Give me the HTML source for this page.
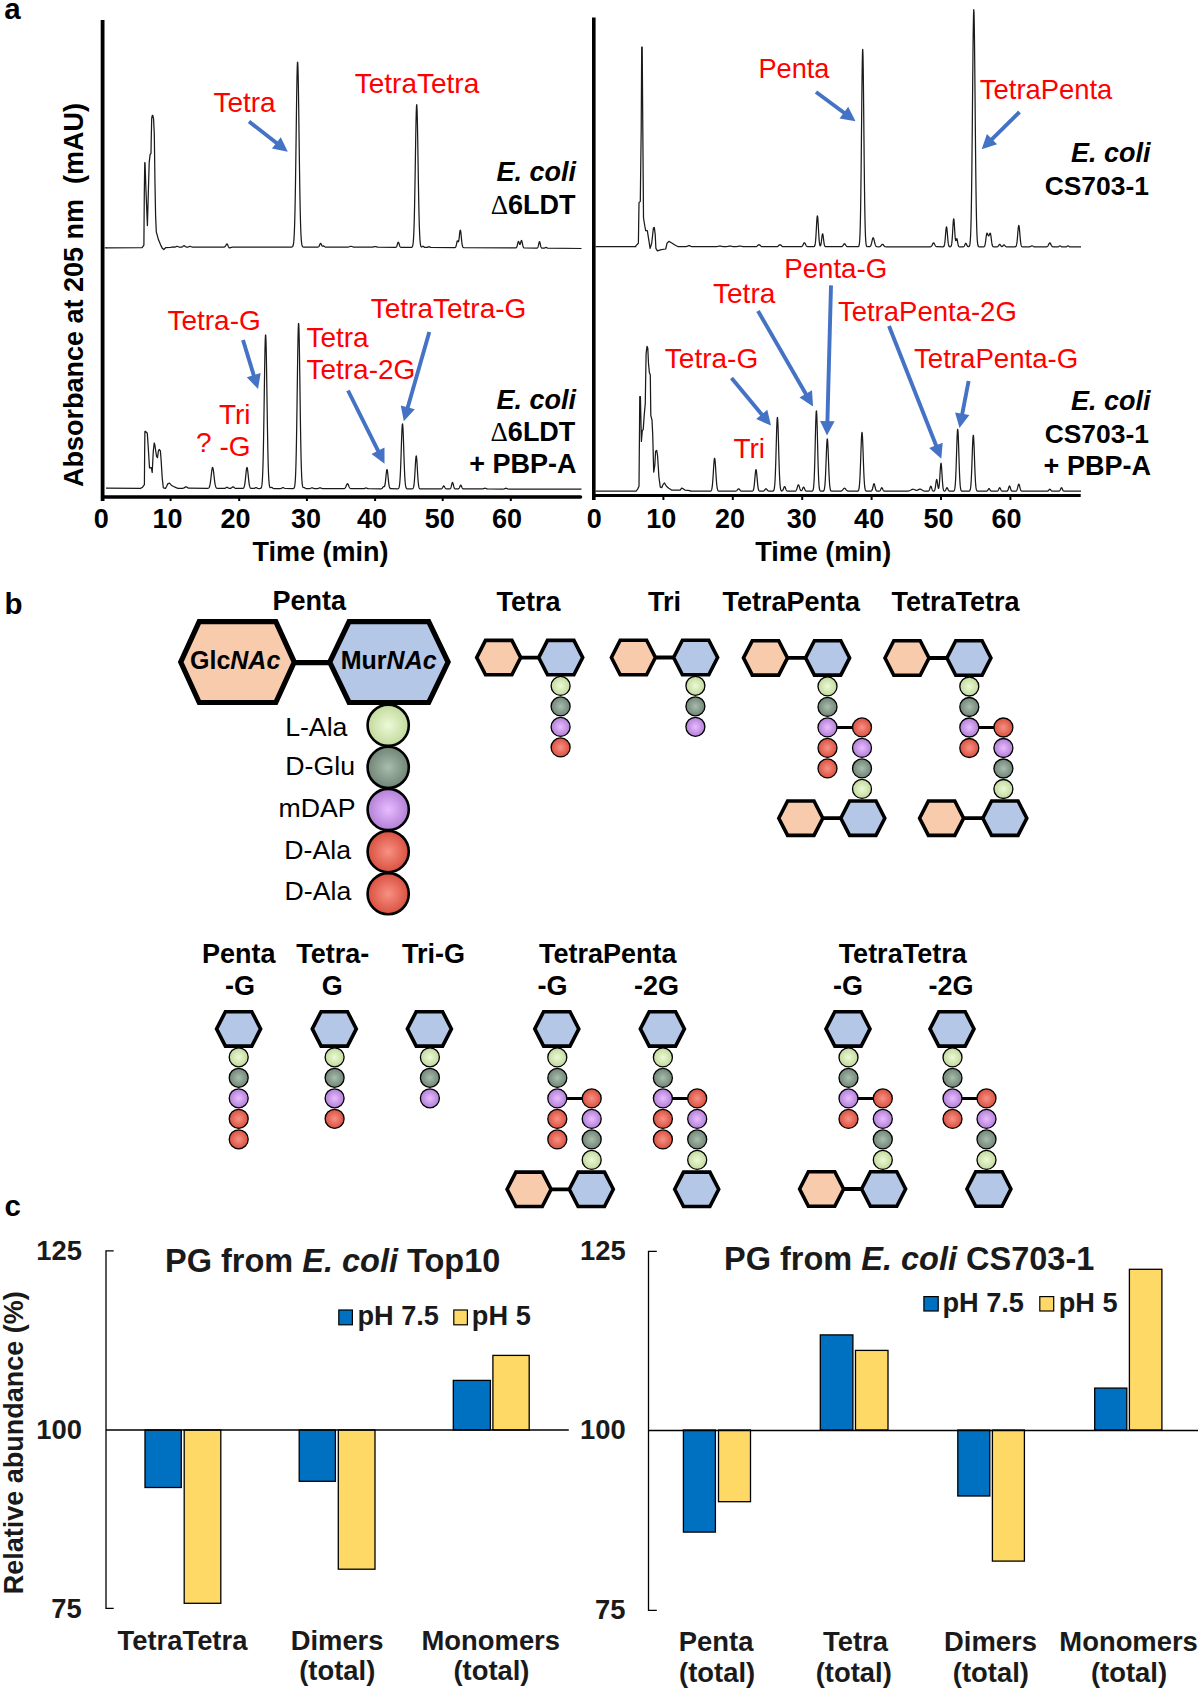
<!DOCTYPE html>
<html><head><meta charset="utf-8"><title>Figure</title><style>
html,body{margin:0;padding:0;background:#fff;}
body{width:1200px;height:1692px;overflow:hidden;}
svg{display:block;}
text{font-family:"Liberation Sans",Arial,sans-serif;}
.r{font-size:26px;fill:#ff0000;}
.tk{font-size:23.5px;font-weight:bold;}
.ax{font-size:26px;font-weight:bold;}
.yl{font-size:23.6px;font-weight:bold;}
.st{font-size:26.5px;font-weight:bold;}
.it{font-style:italic;}
.dl{font-weight:normal;}
.big{font-size:24px;font-weight:bold;}
.aa{font-size:25.5px;}
.lb{font-size:26px;font-weight:bold;}
.tk2{font-size:26px;font-weight:bold;}
.ti{font-size:31.5px;font-weight:bold;fill:#1a1a1a;}
.lg{font-size:25px;font-weight:bold;fill:#1a1a1a;}
.xl{font-size:26.5px;font-weight:bold;fill:#1a1a1a;}
.pl{font-size:29.5px;font-weight:bold;}
</style></head>
<body><svg width="1200" height="1692" viewBox="0 0 1200 1692"><defs>
<radialGradient id="gA" cx="0.5" cy="0.5" r="0.5"><stop offset="0" stop-color="#ecfad6"/><stop offset="1" stop-color="#c2d99d"/></radialGradient>
<radialGradient id="gE" cx="0.5" cy="0.5" r="0.5"><stop offset="0" stop-color="#a9bcad"/><stop offset="1" stop-color="#6f8575"/></radialGradient>
<radialGradient id="gM" cx="0.5" cy="0.5" r="0.5"><stop offset="0" stop-color="#e8bcff"/><stop offset="1" stop-color="#b27fd6"/></radialGradient>
<radialGradient id="gD" cx="0.5" cy="0.5" r="0.5"><stop offset="0" stop-color="#f79184"/><stop offset="1" stop-color="#d9503f"/></radialGradient>
</defs>
<rect width="1200" height="1692" fill="#fff"/>
<text x="4.2" y="19.2" class="pl">a</text>
<text x="4.5" y="614.2" class="pl">b</text>
<text x="4.5" y="1216" class="pl">c</text>
<line x1="102.6" y1="20" x2="102.6" y2="501" stroke="#000" stroke-width="3.8"/><line x1="102.6" y1="497" x2="580.5" y2="497" stroke="#000" stroke-width="3.5" stroke-linecap="round"/><line x1="593.8" y1="17.5" x2="593.8" y2="500" stroke="#000" stroke-width="3.6"/><line x1="593.8" y1="495.5" x2="1080.7" y2="495.5" stroke="#000" stroke-width="3.2"/><line x1="170.6" y1="497" x2="170.6" y2="501" stroke="#000" stroke-width="2"/><line x1="663.4" y1="495" x2="663.4" y2="500" stroke="#000" stroke-width="2"/><line x1="239.2" y1="497" x2="239.2" y2="501" stroke="#000" stroke-width="2"/><line x1="732.8" y1="495" x2="732.8" y2="500" stroke="#000" stroke-width="2"/><line x1="306.9" y1="497" x2="306.9" y2="501" stroke="#000" stroke-width="2"/><line x1="802.2" y1="495" x2="802.2" y2="500" stroke="#000" stroke-width="2"/><line x1="375.1" y1="497" x2="375.1" y2="501" stroke="#000" stroke-width="2"/><line x1="871.6" y1="495" x2="871.6" y2="500" stroke="#000" stroke-width="2"/><line x1="442.7" y1="497" x2="442.7" y2="501" stroke="#000" stroke-width="2"/><line x1="941.0" y1="495" x2="941.0" y2="500" stroke="#000" stroke-width="2"/><line x1="510.8" y1="497" x2="510.8" y2="501" stroke="#000" stroke-width="2"/><line x1="1010.4" y1="495" x2="1010.4" y2="500" stroke="#000" stroke-width="2"/><line x1="104.5" y1="247.8" x2="106.5" y2="247.8" stroke="#333" stroke-width="1.3"/><text x="93.74" y="527.50" style="font-size:27.00px;font-weight:bold" fill="#000">0</text><text x="586.84" y="527.50" style="font-size:27.00px;font-weight:bold" fill="#000">0</text><text x="152.55" y="527.50" style="font-size:27.00px;font-weight:bold" fill="#000">10</text><text x="646.25" y="527.50" style="font-size:27.00px;font-weight:bold" fill="#000">10</text><text x="220.45" y="527.50" style="font-size:27.00px;font-weight:bold" fill="#000">20</text><text x="714.95" y="527.50" style="font-size:27.00px;font-weight:bold" fill="#000">20</text><text x="290.99" y="527.50" style="font-size:27.00px;font-weight:bold" fill="#000">30</text><text x="786.68" y="527.50" style="font-size:27.00px;font-weight:bold" fill="#000">30</text><text x="357.02" y="527.50" style="font-size:27.00px;font-weight:bold" fill="#000">40</text><text x="854.12" y="527.50" style="font-size:27.00px;font-weight:bold" fill="#000">40</text><text x="424.85" y="527.50" style="font-size:27.00px;font-weight:bold" fill="#000">50</text><text x="923.45" y="527.50" style="font-size:27.00px;font-weight:bold" fill="#000">50</text><text x="492.01" y="527.50" style="font-size:27.00px;font-weight:bold" fill="#000">60</text><text x="991.51" y="527.50" style="font-size:27.00px;font-weight:bold" fill="#000">60</text><text x="252.50" y="561.40" style="font-size:27.00px;font-weight:bold" fill="#000">Time (min)</text><text x="755.30" y="561.40" style="font-size:27.00px;font-weight:bold" fill="#000">Time (min)</text><text transform="translate(82.7 295) rotate(-90)" style="font-size:27px;font-weight:bold" text-anchor="middle" xml:space="preserve">Absorbance at 205 nm  (mAU)</text><path d="M106.00 247.80 L142.00 247.51 L142.10 247.70 L143.90 245.10 L144.30 193.70 L144.75 162.60 L145.00 162.80 L146.10 193.70 L147.40 225.60 L148.30 193.70 L149.20 162.60 L150.10 154.60 L151.00 153.30 L151.20 140.50 L151.70 118.30 L152.30 115.30 L152.80 115.30 L153.60 119.20 L154.30 134.30 L155.00 184.80 L155.60 215.80 L156.30 231.80 L158.50 239.80 L160.70 245.10 L162.50 248.60 L163.80 249.50 L165.60 247.70 L170.50 247.30 L174.00 246.80 L174.25 247.19 L175.00 247.04 L176.50 246.49 L177.00 246.42 L177.50 246.49 L179.00 247.01 L180.00 247.16 L181.25 247.16 L181.75 247.08 L182.25 246.87 L182.75 246.51 L183.50 245.87 L183.75 245.74 L184.00 245.69 L184.25 245.73 L184.75 246.05 L185.50 246.70 L186.00 246.98 L186.75 247.14 L187.75 247.11 L188.50 246.92 L189.50 246.47 L190.00 246.37 L190.50 246.46 L191.75 246.99 L192.50 247.13 L224.00 247.04 L224.50 246.93 L225.00 246.64 L225.25 246.38 L225.75 245.61 L226.25 244.68 L226.50 244.29 L226.75 244.04 L227.00 243.98 L227.25 244.14 L227.50 244.49 L227.75 244.99 L228.25 246.18 L228.50 246.73 L228.75 247.19 L229.00 247.54 L229.25 247.78 L229.50 247.92 L230.00 247.94 L231.50 247.30 L232.25 247.12 L291.50 247.06 L292.00 246.98 L292.50 246.70 L292.75 246.40 L293.00 245.88 L293.25 245.03 L293.50 243.68 L293.75 241.63 L294.00 238.58 L294.25 234.23 L294.50 228.23 L294.75 220.22 L295.00 209.94 L295.25 197.23 L295.50 182.13 L295.75 164.94 L296.00 146.23 L296.25 126.90 L296.50 108.05 L296.75 90.96 L297.00 76.91 L297.25 67.02 L297.50 62.14 L297.75 62.68 L298.00 68.62 L298.25 79.42 L298.50 94.18 L298.75 111.73 L299.00 130.77 L299.25 150.06 L299.50 168.53 L299.75 185.34 L300.00 199.98 L300.25 212.20 L300.50 222.01 L300.75 229.59 L301.00 235.24 L301.25 239.30 L301.50 242.12 L301.75 244.02 L302.00 245.25 L302.25 246.02 L302.50 246.49 L302.75 246.77 L303.25 247.01 L317.75 247.11 L318.25 247.01 L318.50 246.89 L318.75 246.68 L319.00 246.36 L319.25 245.90 L320.00 244.10 L320.25 243.62 L320.50 243.36 L320.75 243.39 L321.00 243.69 L321.25 244.19 L321.75 245.35 L322.00 245.80 L322.25 246.08 L322.50 246.19 L323.25 245.95 L323.50 245.93 L323.75 246.00 L324.75 246.80 L325.25 247.04 L326.00 247.14 L347.50 247.14 L348.75 246.94 L350.25 246.49 L351.00 246.40 L351.75 246.50 L353.75 247.07 L371.50 247.23 L372.75 247.03 L374.25 246.59 L375.00 246.50 L375.75 246.60 L377.75 247.16 L395.25 247.36 L395.75 247.29 L396.00 247.18 L396.25 246.99 L396.50 246.68 L396.75 246.20 L397.00 245.55 L397.75 243.07 L398.00 242.47 L398.25 242.20 L398.50 242.32 L398.75 242.80 L399.00 243.55 L399.50 245.26 L399.75 245.98 L400.00 246.52 L400.25 246.90 L400.50 247.14 L401.00 247.34 L411.00 247.42 L411.50 247.36 L412.00 247.11 L412.25 246.82 L412.50 246.31 L412.75 245.47 L413.00 244.10 L413.25 241.99 L413.50 238.83 L413.75 234.31 L414.00 228.10 L414.25 219.90 L414.50 209.55 L414.75 197.07 L415.00 182.74 L415.25 167.14 L415.50 151.13 L415.75 135.82 L416.00 122.45 L416.25 112.19 L416.50 106.02 L416.75 104.56 L417.00 107.95 L417.25 115.85 L417.50 127.49 L417.75 141.79 L418.00 157.52 L418.25 173.49 L418.50 188.68 L418.75 202.32 L419.00 213.97 L419.25 223.45 L419.50 230.83 L419.75 236.33 L420.00 240.27 L420.25 242.97 L420.50 244.75 L420.75 245.87 L421.00 246.53 L421.25 246.88 L421.50 247.02 L421.75 247.00 L422.75 246.34 L423.00 246.28 L423.25 246.34 L424.25 247.14 L424.75 247.38 L425.50 247.49 L427.00 247.47 L427.50 247.37 L428.50 246.85 L429.00 246.71 L429.50 246.85 L430.25 247.28 L430.75 247.44 L454.75 247.58 L455.25 247.44 L455.50 247.23 L455.75 246.84 L456.00 246.21 L456.25 245.30 L456.50 244.15 L456.75 242.91 L457.00 241.81 L457.25 241.07 L457.50 240.83 L457.75 241.04 L458.00 241.48 L458.25 241.79 L458.50 241.64 L458.75 240.80 L459.00 239.23 L459.25 237.10 L459.50 234.72 L459.75 232.50 L460.00 230.87 L460.25 230.14 L460.50 230.48 L460.75 231.82 L461.00 233.94 L461.50 239.12 L461.75 241.52 L462.00 243.51 L462.25 245.03 L462.50 246.09 L462.75 246.77 L463.00 247.19 L463.25 247.42 L463.75 247.60 L515.50 247.93 L516.00 247.83 L516.25 247.68 L516.50 247.42 L516.75 246.99 L517.00 246.35 L517.25 245.50 L517.75 243.38 L518.00 242.41 L518.25 241.72 L518.50 241.45 L518.75 241.66 L519.00 242.26 L519.50 243.85 L519.75 244.38 L520.00 244.50 L520.25 244.16 L520.50 243.40 L521.00 241.44 L521.25 240.73 L521.50 240.48 L521.75 240.78 L522.00 241.58 L522.25 242.71 L522.75 245.16 L523.00 246.15 L523.25 246.89 L523.50 247.39 L523.75 247.70 L524.00 247.87 L524.50 248.00 L536.75 248.12 L537.25 248.01 L537.50 247.85 L537.75 247.55 L538.00 247.02 L538.25 246.23 L538.50 245.17 L539.00 242.80 L539.25 241.96 L539.50 241.66 L539.75 241.97 L540.00 242.81 L540.50 245.19 L540.75 246.25 L541.00 247.05 L541.25 247.58 L541.50 247.89 L541.75 248.05 L542.25 248.16 L544.00 248.16 L544.50 248.06 L545.50 247.55 L546.00 247.41 L546.50 247.56 L547.25 247.98 L547.75 248.15 L581.50 248.50" fill="none" stroke="#1a1a1a" stroke-width="1.25" stroke-linejoin="round"/><path d="M106.00 488.20 L140.00 488.27 L140.20 488.50 L142.40 487.40 L144.40 484.70 L144.65 451.00 L144.90 431.50 L145.30 431.30 L147.30 433.30 L148.20 446.60 L149.50 467.90 L151.30 467.70 L152.20 472.50 L153.30 451.00 L154.20 443.00 L154.85 444.80 L155.70 451.00 L156.60 456.30 L157.50 457.70 L158.40 451.00 L159.20 449.50 L160.40 451.00 L161.10 459.90 L162.20 477.60 L163.30 487.80 L165.50 488.30 L166.60 486.50 L167.70 483.80 L169.50 483.20 L171.30 485.20 L173.50 486.50 L176.10 487.60 L178.00 488.30 L182.50 488.32 L183.25 488.20 L184.00 487.90 L185.25 487.10 L185.75 486.90 L186.25 486.90 L186.75 487.10 L188.00 487.91 L188.75 488.21 L207.50 488.39 L208.25 488.25 L208.75 487.94 L209.00 487.65 L209.25 487.22 L209.50 486.61 L209.75 485.77 L210.00 484.68 L210.25 483.29 L210.50 481.60 L210.75 479.65 L211.00 477.49 L211.50 473.00 L211.75 470.96 L212.00 469.27 L212.25 468.07 L212.50 467.48 L212.75 467.54 L213.00 468.26 L213.25 469.57 L213.50 471.35 L213.75 473.44 L214.25 477.94 L214.50 480.07 L214.75 481.97 L215.00 483.60 L215.25 484.93 L215.50 485.97 L215.75 486.76 L216.00 487.33 L216.25 487.73 L216.50 488.00 L217.00 488.28 L217.75 488.41 L224.25 488.42 L225.00 488.29 L225.50 488.06 L226.50 487.39 L227.00 487.25 L227.50 487.40 L228.50 488.07 L229.00 488.29 L229.75 488.41 L230.50 488.34 L231.00 488.16 L231.50 487.83 L232.25 487.20 L232.75 486.91 L233.00 486.87 L233.50 487.03 L234.75 488.02 L235.25 488.27 L236.00 488.43 L242.50 488.45 L243.00 488.36 L243.50 488.07 L243.75 487.77 L244.00 487.31 L244.25 486.62 L244.50 485.65 L244.75 484.34 L245.00 482.65 L245.25 480.61 L245.50 478.27 L246.00 473.25 L246.25 470.95 L246.50 469.11 L246.75 467.91 L247.00 467.50 L247.25 467.91 L247.50 469.11 L247.75 470.96 L248.00 473.25 L248.50 478.28 L248.75 480.62 L249.00 482.66 L249.25 484.35 L249.50 485.66 L249.75 486.63 L250.00 487.32 L250.25 487.79 L250.50 488.09 L251.00 488.38 L251.75 488.49 L253.75 488.47 L254.25 488.36 L254.75 488.13 L255.50 487.66 L256.00 487.52 L256.50 487.66 L257.25 488.14 L257.75 488.37 L258.50 488.50 L260.00 488.50 L260.50 488.40 L260.75 488.28 L261.00 488.06 L261.25 487.67 L261.50 487.00 L261.75 485.89 L262.00 484.13 L262.25 481.44 L262.50 477.50 L262.75 471.94 L263.00 464.43 L263.25 454.68 L263.50 442.60 L263.75 428.31 L264.00 412.24 L264.50 378.04 L264.75 362.22 L265.00 349.02 L265.25 339.62 L265.50 334.96 L265.75 335.48 L266.00 341.15 L266.25 351.39 L266.50 365.22 L266.75 381.40 L267.00 398.59 L267.25 415.57 L267.50 431.34 L267.75 445.21 L268.00 456.83 L268.25 466.11 L268.50 473.21 L268.75 478.41 L269.00 482.06 L269.25 484.51 L269.50 486.07 L269.75 487.00 L270.00 487.49 L270.25 487.68 L270.50 487.69 L271.25 487.37 L271.50 487.34 L272.00 487.52 L272.75 488.09 L273.25 488.37 L274.00 488.53 L280.25 488.54 L281.00 488.43 L281.75 488.11 L282.50 487.69 L283.00 487.57 L283.50 487.69 L284.50 488.25 L285.25 488.50 L293.00 488.56 L293.50 488.46 L293.75 488.33 L294.00 488.10 L294.25 487.67 L294.50 486.95 L294.75 485.76 L295.00 483.87 L295.25 480.98 L295.50 476.74 L295.75 470.76 L296.00 462.68 L296.25 452.20 L296.50 439.21 L296.75 423.85 L297.00 406.56 L297.50 369.78 L297.75 352.78 L298.00 338.58 L298.25 328.48 L298.50 323.46 L298.75 324.02 L299.00 330.12 L299.25 341.13 L299.50 356.00 L299.75 373.40 L300.00 391.88 L300.25 410.14 L300.50 427.10 L300.75 442.01 L301.00 454.50 L301.25 464.47 L301.50 472.08 L301.75 477.65 L302.00 481.53 L302.25 484.11 L302.50 485.74 L302.75 486.69 L303.00 487.19 L303.25 487.42 L304.25 487.62 L305.50 488.29 L306.25 488.54 L309.25 488.61 L310.00 488.52 L310.75 488.26 L311.50 487.93 L312.00 487.83 L312.50 487.93 L313.75 488.46 L314.50 488.60 L317.50 488.61 L318.25 488.47 L319.50 487.94 L320.00 487.85 L320.50 487.95 L321.75 488.48 L322.50 488.62 L343.75 488.66 L344.25 488.57 L344.75 488.34 L345.00 488.13 L345.25 487.84 L345.50 487.46 L345.75 486.98 L346.75 484.59 L347.00 484.12 L347.25 483.81 L347.50 483.71 L347.75 483.82 L348.00 484.12 L348.25 484.60 L349.00 486.42 L349.25 486.99 L349.50 487.47 L349.75 487.85 L350.00 488.14 L350.50 488.49 L351.00 488.64 L363.50 488.71 L364.25 488.57 L365.50 488.04 L366.00 487.95 L366.50 488.04 L367.75 488.58 L368.50 488.72 L381.00 488.76 L381.50 488.69 L382.00 488.43 L382.25 488.19 L383.00 487.11 L383.25 486.82 L383.50 486.66 L384.25 486.65 L384.50 486.41 L384.75 485.81 L385.00 484.75 L385.25 483.16 L385.50 481.08 L385.75 478.63 L386.00 476.01 L386.25 473.49 L386.50 471.38 L386.75 469.98 L387.00 469.49 L387.25 469.98 L387.50 471.39 L387.75 473.50 L388.00 476.03 L388.25 478.67 L388.50 481.18 L388.75 483.35 L389.00 485.10 L389.25 486.41 L389.50 487.34 L389.75 487.95 L390.00 488.33 L390.25 488.55 L390.75 488.74 L397.50 488.79 L398.00 488.71 L398.25 488.61 L398.50 488.43 L398.75 488.09 L399.00 487.53 L399.25 486.60 L399.50 485.17 L399.75 483.04 L400.00 480.02 L400.25 475.96 L400.50 470.75 L400.75 464.42 L401.00 457.18 L401.50 441.62 L401.75 434.53 L402.00 428.82 L402.25 425.11 L402.50 423.82 L402.75 425.11 L403.00 428.82 L403.25 434.53 L403.50 441.63 L404.00 457.19 L404.25 464.43 L404.50 470.76 L404.75 475.96 L405.00 480.03 L405.25 483.05 L405.50 485.18 L405.75 486.62 L406.00 487.54 L406.25 488.11 L406.50 488.44 L406.75 488.63 L407.25 488.79 L412.00 488.82 L412.50 488.75 L412.75 488.64 L413.00 488.43 L413.25 488.05 L413.50 487.40 L413.75 486.35 L414.00 484.77 L414.25 482.53 L414.50 479.54 L414.75 475.83 L415.00 471.55 L415.25 467.02 L415.50 462.70 L415.75 459.09 L416.00 456.69 L416.25 455.85 L416.50 456.69 L416.75 459.09 L417.00 462.70 L417.25 467.02 L417.50 471.55 L417.75 475.83 L418.00 479.55 L418.25 482.54 L418.50 484.78 L418.75 486.36 L419.00 487.41 L419.25 488.06 L419.50 488.44 L419.75 488.65 L420.25 488.82 L441.00 488.88 L441.50 488.77 L442.00 488.45 L442.25 488.16 L442.75 487.29 L443.25 486.34 L443.50 486.02 L443.75 485.91 L444.00 486.02 L444.25 486.34 L445.00 487.77 L445.25 488.17 L445.50 488.46 L446.00 488.78 L446.75 488.91 L449.50 488.90 L450.00 488.79 L450.25 488.64 L450.50 488.37 L450.75 487.94 L451.00 487.30 L451.25 486.45 L451.75 484.33 L452.00 483.36 L452.25 482.67 L452.50 482.43 L452.75 482.68 L453.00 483.36 L453.25 484.34 L453.75 486.45 L454.00 487.31 L454.25 487.95 L454.50 488.38 L454.75 488.65 L455.25 488.87 L457.75 488.93 L458.25 488.86 L458.75 488.62 L459.00 488.37 L459.25 488.00 L459.50 487.49 L460.00 486.26 L460.25 485.69 L460.50 485.29 L460.75 485.15 L461.00 485.29 L461.25 485.69 L462.00 487.50 L462.25 488.00 L462.50 488.38 L462.75 488.63 L463.25 488.87 L482.50 488.96 L483.25 488.82 L484.50 488.29 L485.00 488.20 L485.50 488.29 L486.75 488.83 L487.50 488.97 L503.50 489.00 L504.25 488.86 L505.50 488.33 L506.00 488.24 L506.50 488.34 L507.75 488.87 L508.50 489.01 L581.50 489.20" fill="none" stroke="#1a1a1a" stroke-width="1.25" stroke-linejoin="round"/><path d="M595.50 246.60 L635.75 246.62 L635.80 245.90 L638.40 243.30 L639.00 202.60 L640.30 201.40 L641.20 129.00 L641.70 47.00 L642.20 47.00 L642.80 129.00 L643.50 217.90 L644.70 225.50 L645.70 230.60 L647.30 230.60 L648.50 238.20 L650.10 248.40 L651.70 243.30 L653.40 228.10 L654.30 227.40 L655.20 234.40 L655.90 248.40 L657.40 250.90 L661.30 249.70 L665.70 249.00 L667.00 243.30 L668.90 241.40 L671.40 242.70 L675.30 245.20 L677.80 246.50 L682.00 246.50 L682.25 246.65 L686.00 246.61 L686.75 246.48 L687.50 246.20 L688.25 245.83 L688.75 245.68 L689.25 245.68 L690.00 245.95 L691.00 246.41 L691.75 246.59 L716.50 246.63 L717.75 246.45 L719.50 246.01 L720.25 245.99 L723.00 246.58 L726.50 246.63 L727.75 246.45 L729.50 246.02 L730.25 245.99 L733.00 246.59 L736.50 246.64 L737.75 246.46 L739.50 246.03 L740.25 246.00 L743.00 246.60 L755.50 246.67 L756.25 246.55 L756.75 246.35 L757.25 246.01 L758.25 245.06 L758.75 244.74 L759.00 244.70 L759.25 244.74 L759.75 245.06 L760.75 246.01 L761.25 246.36 L761.75 246.56 L776.50 246.68 L777.25 246.57 L777.75 246.37 L778.25 246.02 L779.25 245.07 L779.75 244.76 L780.00 244.71 L780.25 244.76 L780.75 245.07 L781.75 246.02 L782.25 246.37 L782.75 246.57 L801.00 246.69 L801.50 246.60 L802.00 246.36 L802.25 246.14 L802.50 245.83 L802.75 245.43 L803.75 243.37 L804.00 242.98 L804.25 242.77 L804.50 242.75 L804.75 242.93 L805.00 243.28 L806.00 245.34 L806.25 245.76 L806.50 246.08 L807.00 246.49 L807.50 246.66 L813.50 246.72 L814.00 246.64 L814.25 246.52 L814.50 246.27 L814.75 245.81 L815.00 245.00 L815.25 243.66 L815.50 241.64 L815.75 238.79 L816.00 235.10 L816.25 230.73 L816.50 226.06 L816.75 221.64 L817.00 218.12 L817.25 216.08 L817.50 215.89 L817.75 217.58 L818.00 220.84 L818.25 225.14 L818.50 229.81 L818.75 234.27 L819.00 238.11 L819.25 241.13 L819.50 243.29 L819.75 244.69 L820.00 245.48 L820.25 245.77 L820.50 245.63 L820.75 245.05 L821.00 244.01 L821.25 242.50 L821.50 240.57 L822.00 236.33 L822.25 234.69 L822.50 233.82 L822.75 233.92 L823.00 234.96 L823.25 236.73 L823.75 240.99 L824.00 242.86 L824.25 244.32 L824.50 245.34 L824.75 245.99 L825.00 246.37 L825.25 246.57 L825.75 246.71 L841.25 246.71 L841.75 246.62 L842.25 246.38 L842.75 245.91 L843.25 245.18 L843.75 244.38 L844.00 244.05 L844.25 243.83 L844.50 243.75 L844.75 243.83 L845.00 244.05 L845.50 244.77 L846.00 245.57 L846.50 246.18 L847.00 246.53 L847.50 246.68 L857.75 246.74 L858.25 246.65 L858.50 246.51 L858.75 246.22 L859.00 245.65 L859.25 244.57 L859.50 242.65 L859.75 239.40 L860.00 234.21 L860.25 226.34 L860.50 215.06 L860.75 199.84 L861.00 180.50 L861.25 157.52 L861.50 132.12 L861.75 106.29 L862.00 82.58 L862.25 63.73 L862.50 52.13 L862.75 49.35 L863.00 55.78 L863.25 70.52 L863.50 91.63 L863.75 116.52 L864.00 142.46 L864.25 167.09 L864.50 188.72 L864.75 206.42 L865.00 220.02 L865.25 229.86 L865.50 236.57 L865.75 240.90 L866.00 243.55 L866.25 245.08 L866.50 245.93 L866.75 246.37 L867.00 246.59 L867.50 246.74 L869.25 246.73 L869.75 246.63 L870.25 246.33 L870.50 246.05 L870.75 245.65 L871.00 245.09 L871.25 244.37 L871.50 243.47 L871.75 242.43 L872.25 240.19 L872.50 239.18 L872.75 238.38 L873.00 237.90 L873.25 237.78 L873.50 238.05 L873.75 238.67 L874.00 239.57 L874.75 242.86 L875.00 243.85 L875.25 244.68 L875.50 245.34 L875.75 245.83 L876.00 246.18 L876.25 246.42 L876.75 246.66 L879.00 246.76 L879.75 246.67 L880.25 246.47 L880.75 246.07 L881.25 245.47 L881.75 244.80 L882.00 244.52 L882.25 244.34 L882.50 244.28 L882.75 244.34 L883.00 244.52 L883.50 245.12 L884.00 245.79 L884.50 246.30 L885.00 246.59 L885.75 246.75 L930.25 246.77 L930.75 246.67 L931.25 246.40 L931.50 246.16 L931.75 245.84 L932.25 244.92 L932.75 243.84 L933.00 243.36 L933.25 243.01 L933.50 242.83 L933.75 242.85 L934.00 243.07 L934.25 243.45 L935.00 245.03 L935.25 245.51 L935.50 245.91 L935.75 246.22 L936.25 246.59 L936.75 246.74 L943.00 246.79 L943.50 246.68 L943.75 246.51 L944.00 246.19 L944.25 245.61 L944.50 244.63 L944.75 243.15 L945.00 241.07 L945.25 238.40 L945.75 232.17 L946.00 229.40 L946.25 227.50 L946.50 226.82 L946.75 227.50 L947.00 229.40 L947.25 232.17 L947.75 238.40 L948.00 241.07 L948.25 243.15 L948.50 244.64 L948.75 245.61 L949.00 246.19 L949.25 246.52 L949.50 246.68 L950.00 246.78 L950.50 246.72 L950.75 246.59 L951.00 246.33 L951.25 245.81 L951.50 244.90 L951.75 243.41 L952.00 241.17 L952.25 238.09 L952.50 234.21 L953.00 225.48 L953.25 221.79 L953.50 219.43 L953.75 218.85 L954.00 220.17 L954.25 223.09 L954.50 227.05 L954.75 231.32 L955.00 235.21 L955.25 238.20 L955.50 240.03 L955.75 240.71 L956.00 240.48 L956.50 239.00 L956.75 238.68 L957.00 239.00 L957.25 239.97 L957.50 241.36 L957.75 242.87 L958.00 244.23 L958.25 245.28 L958.50 245.99 L958.75 246.41 L959.00 246.64 L959.50 246.80 L963.00 246.80 L963.50 246.69 L963.75 246.57 L964.00 246.35 L964.25 246.03 L964.50 245.59 L965.25 243.92 L965.50 243.52 L965.75 243.33 L966.00 243.41 L966.25 243.74 L967.00 245.39 L967.25 245.87 L967.50 246.24 L967.75 246.49 L968.25 246.72 L968.75 246.69 L969.00 246.56 L969.25 246.31 L969.50 245.83 L969.75 244.98 L970.00 243.52 L970.25 241.13 L970.50 237.37 L970.75 231.70 L971.00 223.50 L971.25 212.17 L971.50 197.22 L971.75 178.39 L972.00 155.84 L972.25 130.26 L972.75 75.58 L973.00 50.47 L973.25 29.85 L973.50 15.77 L973.75 9.71 L974.00 12.33 L974.25 23.33 L974.50 41.56 L974.75 65.14 L975.00 91.86 L975.25 119.44 L975.50 145.92 L975.75 169.79 L976.00 190.16 L976.25 206.65 L976.50 219.38 L976.75 228.76 L977.00 235.37 L977.25 239.82 L977.50 242.70 L977.75 244.49 L978.00 245.55 L978.25 246.16 L978.50 246.49 L978.75 246.67 L979.25 246.80 L983.50 246.81 L984.00 246.68 L984.25 246.51 L984.50 246.20 L984.75 245.67 L985.00 244.84 L985.25 243.64 L985.50 242.08 L985.75 240.21 L986.00 238.19 L986.25 236.25 L986.50 234.65 L986.75 233.59 L987.00 233.14 L987.25 233.25 L987.50 233.76 L988.00 235.10 L988.25 235.59 L988.50 235.83 L988.75 235.81 L989.00 235.51 L989.25 234.98 L989.75 233.64 L990.00 233.19 L990.25 233.18 L990.50 233.75 L990.75 234.94 L991.00 236.62 L991.50 240.60 L991.75 242.42 L992.00 243.92 L992.25 245.03 L992.50 245.80 L992.75 246.28 L993.00 246.56 L993.50 246.79 L997.00 246.82 L997.50 246.72 L998.00 246.43 L998.25 246.17 L998.75 245.42 L999.25 244.64 L999.50 244.41 L999.75 244.35 L1000.00 244.48 L1000.25 244.78 L1001.00 245.96 L1001.25 246.26 L1001.50 246.47 L1001.75 246.58 L1002.00 246.59 L1002.25 246.50 L1002.50 246.33 L1003.00 245.77 L1003.50 245.14 L1003.75 244.93 L1004.00 244.85 L1004.25 244.93 L1004.50 245.14 L1005.25 246.09 L1005.75 246.55 L1006.25 246.77 L1015.00 246.83 L1015.50 246.71 L1015.75 246.54 L1016.00 246.25 L1016.25 245.73 L1016.50 244.91 L1016.75 243.66 L1017.00 241.91 L1017.25 239.63 L1017.50 236.87 L1018.00 230.78 L1018.25 228.12 L1018.50 226.22 L1018.75 225.39 L1019.00 225.75 L1019.25 227.25 L1019.50 229.65 L1019.75 232.58 L1020.00 235.67 L1020.25 238.58 L1020.50 241.07 L1020.75 243.03 L1021.00 244.47 L1021.25 245.45 L1021.50 246.08 L1021.75 246.45 L1022.00 246.66 L1022.50 246.82 L1029.25 246.85 L1030.00 246.73 L1030.75 246.41 L1031.50 245.99 L1032.00 245.87 L1032.50 245.99 L1033.50 246.55 L1034.25 246.79 L1046.25 246.86 L1047.00 246.72 L1047.50 246.43 L1047.75 246.17 L1048.00 245.83 L1048.50 244.89 L1049.00 243.81 L1049.25 243.35 L1049.50 243.03 L1049.75 242.88 L1050.00 242.95 L1050.25 243.20 L1050.50 243.61 L1051.25 245.20 L1051.50 245.67 L1051.75 246.05 L1052.00 246.34 L1052.50 246.69 L1053.00 246.82 L1057.75 246.87 L1058.25 246.79 L1058.75 246.59 L1059.50 246.06 L1059.75 245.93 L1060.00 245.89 L1060.25 245.93 L1061.25 246.59 L1061.75 246.80 L1065.75 246.87 L1066.25 246.80 L1066.75 246.60 L1067.50 246.07 L1067.75 245.94 L1068.00 245.89 L1068.25 245.94 L1069.25 246.60 L1069.75 246.80 L1081.00 246.90" fill="none" stroke="#1a1a1a" stroke-width="1.25" stroke-linejoin="round"/><path d="M595.50 491.20 L636.00 491.20 L636.20 491.00 L637.60 489.10 L639.00 486.30 L639.50 429.60 L639.75 396.50 L640.40 396.50 L640.90 420.10 L641.40 441.40 L642.30 430.50 L643.20 429.60 L644.20 415.40 L645.30 403.10 L645.60 382.30 L646.10 353.90 L647.00 346.30 L647.80 348.20 L648.50 363.40 L649.40 372.80 L650.30 374.70 L650.80 415.40 L652.00 420.10 L652.70 434.30 L653.70 472.10 L654.80 465.50 L655.60 451.30 L656.70 450.40 L657.60 456.00 L658.90 476.80 L660.30 487.20 L661.70 487.70 L663.10 484.40 L664.50 483.00 L666.40 486.30 L668.80 488.20 L671.60 490.10 L680.20 490.10 L681.60 488.20 L683.00 488.70 L684.90 490.10 L690.00 490.60 L690.25 491.20 L710.00 491.18 L710.50 491.10 L711.00 490.83 L711.25 490.53 L711.50 490.03 L711.75 489.23 L712.00 488.04 L712.25 486.35 L712.50 484.06 L712.75 481.14 L713.00 477.63 L713.25 473.67 L713.50 469.52 L713.75 465.52 L714.00 462.08 L714.25 459.57 L714.50 458.31 L714.75 458.46 L715.00 459.98 L715.25 462.70 L715.50 466.29 L716.00 474.49 L716.25 478.38 L716.50 481.78 L716.75 484.57 L717.00 486.73 L717.25 488.32 L717.50 489.42 L717.75 490.15 L718.00 490.60 L718.25 490.88 L718.75 491.12 L735.25 491.18 L736.00 491.05 L736.50 490.81 L737.00 490.37 L737.75 489.42 L738.25 488.92 L738.50 488.81 L738.75 488.82 L739.00 488.95 L739.50 489.48 L740.25 490.42 L740.75 490.84 L741.25 491.07 L742.00 491.18 L752.00 491.17 L752.50 491.06 L752.75 490.93 L753.00 490.68 L753.25 490.25 L753.50 489.57 L753.75 488.53 L754.00 487.06 L754.25 485.11 L754.50 482.68 L754.75 479.87 L755.00 476.91 L755.25 474.08 L755.50 471.72 L755.75 470.15 L756.00 469.60 L756.25 470.15 L756.50 471.72 L756.75 474.08 L757.00 476.91 L757.25 479.87 L757.50 482.68 L757.75 485.11 L758.00 487.06 L758.25 488.53 L758.50 489.57 L758.75 490.25 L759.00 490.68 L759.25 490.93 L759.75 491.14 L762.75 491.17 L763.50 491.02 L764.00 490.74 L764.50 490.25 L765.25 489.30 L765.50 489.04 L765.75 488.86 L766.00 488.80 L766.25 488.86 L766.50 489.04 L767.00 489.61 L767.50 490.25 L768.00 490.74 L768.50 491.02 L769.25 491.17 L772.50 491.18 L773.00 491.11 L773.25 491.01 L773.50 490.82 L773.75 490.48 L774.00 489.86 L774.25 488.84 L774.50 487.21 L774.75 484.74 L775.00 481.19 L775.25 476.33 L775.50 470.07 L775.75 462.45 L776.00 453.73 L776.25 444.45 L776.50 435.34 L776.75 427.30 L777.00 421.20 L777.25 417.78 L777.50 417.46 L777.75 420.28 L778.00 425.90 L778.25 433.62 L778.50 442.59 L778.75 451.90 L779.00 460.78 L779.25 468.65 L779.50 475.20 L779.75 480.32 L780.00 484.12 L780.25 486.79 L780.50 488.57 L780.75 489.69 L781.00 490.37 L781.25 490.75 L781.50 490.95 L781.75 491.02 L782.00 491.00 L782.25 490.89 L782.50 490.68 L782.75 490.37 L783.00 489.92 L783.25 489.35 L783.75 487.99 L784.00 487.36 L784.25 486.87 L784.50 486.62 L784.75 486.65 L785.00 486.95 L785.25 487.48 L786.00 489.47 L786.25 490.02 L786.50 490.44 L786.75 490.74 L787.25 491.06 L788.00 491.19 L794.75 491.17 L795.25 491.09 L795.75 490.85 L796.00 490.61 L796.25 490.25 L796.50 489.76 L796.75 489.12 L797.00 488.35 L797.50 486.62 L797.75 485.83 L798.00 485.21 L798.25 484.86 L798.50 484.83 L798.75 485.12 L799.00 485.68 L799.25 486.45 L799.75 488.18 L800.00 488.97 L800.25 489.63 L800.50 490.13 L800.75 490.48 L801.00 490.67 L801.25 490.72 L801.50 490.64 L801.75 490.42 L802.00 490.06 L802.25 489.58 L803.00 487.86 L803.25 487.44 L803.50 487.22 L803.75 487.24 L804.00 487.51 L804.25 487.96 L805.00 489.70 L805.25 490.17 L805.50 490.54 L805.75 490.80 L806.25 491.08 L807.00 491.19 L811.75 491.18 L812.25 491.08 L812.50 490.94 L812.75 490.68 L813.00 490.18 L813.25 489.31 L813.50 487.85 L813.75 485.53 L814.00 482.07 L814.25 477.16 L814.50 470.61 L814.75 462.41 L815.00 452.78 L815.50 431.86 L815.75 422.50 L816.00 415.33 L816.25 411.28 L816.50 410.90 L816.75 414.25 L817.00 420.86 L817.25 429.87 L817.50 440.19 L817.75 450.73 L818.00 460.58 L818.25 469.10 L818.50 475.99 L818.75 481.21 L819.00 484.94 L819.25 487.46 L819.50 489.07 L819.75 490.04 L820.00 490.60 L820.25 490.90 L820.75 491.14 L822.75 491.18 L823.25 491.09 L823.50 490.98 L823.75 490.75 L824.00 490.35 L824.25 489.64 L824.50 488.50 L824.75 486.72 L825.00 484.11 L825.25 480.50 L825.50 475.81 L825.75 470.07 L826.00 463.54 L826.25 456.66 L826.50 450.06 L826.75 444.46 L827.00 440.55 L827.25 438.85 L827.50 439.59 L827.75 442.66 L828.00 447.66 L828.25 453.95 L828.50 460.80 L828.75 467.53 L829.00 473.63 L829.25 478.76 L829.50 482.79 L829.75 485.78 L830.00 487.87 L830.25 489.25 L830.50 490.11 L830.75 490.62 L831.00 490.90 L831.50 491.13 L840.25 491.17 L841.00 491.07 L841.50 490.90 L842.00 490.59 L842.50 490.12 L843.50 488.88 L844.00 488.39 L844.25 488.25 L844.50 488.20 L844.75 488.25 L845.25 488.60 L846.50 490.12 L847.00 490.59 L847.50 490.90 L848.25 491.12 L857.25 491.18 L857.75 491.09 L858.00 490.97 L858.25 490.75 L858.50 490.36 L858.75 489.70 L859.00 488.62 L859.25 486.94 L859.50 484.49 L859.75 481.06 L860.00 476.54 L860.25 470.90 L860.50 464.28 L860.75 457.02 L861.00 449.65 L861.25 442.83 L861.50 437.29 L861.75 433.66 L862.00 432.40 L862.25 433.66 L862.50 437.29 L862.75 442.83 L863.00 449.65 L863.25 457.02 L863.50 464.28 L863.75 470.90 L864.00 476.54 L864.25 481.06 L864.50 484.49 L864.75 486.94 L865.00 488.62 L865.25 489.70 L865.50 490.36 L865.75 490.75 L866.00 490.97 L866.50 491.15 L870.50 491.18 L871.00 491.12 L871.50 490.87 L871.75 490.60 L872.00 490.18 L872.25 489.58 L872.50 488.77 L872.75 487.77 L873.25 485.54 L873.50 484.58 L873.75 483.93 L874.00 483.70 L874.25 483.93 L874.50 484.58 L874.75 485.54 L875.25 487.77 L875.50 488.77 L875.75 489.58 L876.00 490.18 L876.25 490.60 L876.50 490.87 L877.00 491.12 L878.75 491.19 L879.25 491.14 L879.75 490.94 L880.00 490.73 L880.25 490.41 L880.50 489.97 L881.25 488.30 L881.50 487.89 L881.75 487.71 L882.00 487.79 L882.25 488.11 L883.00 489.76 L883.25 490.24 L883.50 490.61 L883.75 490.87 L884.25 491.11 L907.75 491.14 L908.75 490.99 L909.50 490.77 L910.50 490.28 L911.75 489.55 L912.50 489.26 L913.00 489.20 L913.50 489.25 L914.25 489.52 L915.50 490.13 L916.25 490.32 L916.75 490.32 L917.50 490.13 L919.00 489.41 L919.75 489.21 L920.25 489.21 L921.00 489.43 L923.00 490.55 L923.75 490.86 L924.75 491.08 L927.75 491.18 L928.25 491.11 L928.50 491.01 L928.75 490.83 L929.00 490.52 L929.25 490.07 L929.50 489.44 L930.25 487.05 L930.50 486.47 L930.75 486.21 L931.00 486.32 L931.25 486.79 L931.50 487.51 L932.00 489.14 L932.25 489.83 L932.50 490.36 L932.75 490.72 L933.00 490.95 L933.50 491.12 L934.00 491.06 L934.25 490.91 L934.50 490.61 L934.75 490.08 L935.00 489.23 L935.25 488.00 L935.50 486.39 L936.00 482.55 L936.25 480.87 L936.50 479.78 L936.75 479.51 L937.00 480.12 L937.25 481.47 L937.50 483.26 L937.75 485.13 L938.00 486.77 L938.25 487.91 L938.50 488.39 L938.75 488.10 L939.00 486.96 L939.25 484.93 L939.50 482.02 L939.75 478.34 L940.25 470.06 L940.50 466.49 L940.75 464.06 L941.00 463.20 L941.25 464.06 L941.50 466.49 L941.75 470.06 L942.25 478.38 L942.50 482.11 L942.75 485.14 L943.00 487.41 L943.25 488.97 L943.50 489.97 L943.75 490.56 L944.00 490.88 L944.25 491.02 L944.50 491.06 L944.75 491.02 L945.00 490.89 L945.25 490.67 L945.50 490.33 L945.75 489.87 L946.25 488.73 L946.50 488.20 L946.75 487.83 L947.00 487.70 L947.25 487.83 L947.50 488.20 L948.25 489.87 L948.50 490.33 L948.75 490.67 L949.00 490.90 L949.50 491.13 L953.00 491.19 L953.50 491.12 L953.75 491.03 L954.00 490.85 L954.25 490.51 L954.50 489.91 L954.75 488.89 L955.00 487.26 L955.25 484.79 L955.50 481.25 L955.75 476.48 L956.00 470.41 L956.25 463.20 L956.50 455.23 L956.75 447.12 L957.00 439.68 L957.25 433.77 L957.50 430.13 L957.75 429.26 L958.00 431.27 L958.25 435.90 L958.50 442.52 L958.75 450.33 L959.00 458.47 L959.25 466.20 L959.50 472.99 L959.75 478.54 L960.00 482.81 L960.25 485.89 L960.50 488.00 L960.75 489.36 L961.00 490.19 L961.25 490.67 L961.50 490.94 L962.00 491.14 L968.75 491.18 L969.25 491.09 L969.50 490.96 L969.75 490.72 L970.00 490.29 L970.25 489.54 L970.50 488.31 L970.75 486.41 L971.00 483.62 L971.25 479.77 L971.50 474.75 L971.75 468.62 L972.00 461.64 L972.25 454.29 L972.50 447.24 L972.75 441.25 L973.00 437.07 L973.25 435.25 L973.50 436.04 L973.75 439.33 L974.00 444.67 L974.25 451.39 L974.50 458.71 L974.75 465.91 L975.00 472.42 L975.25 477.90 L975.50 482.22 L975.75 485.41 L976.00 487.64 L976.25 489.11 L976.50 490.03 L976.75 490.58 L977.00 490.88 L977.25 491.05 L977.75 491.17 L986.25 491.18 L986.75 491.09 L987.25 490.81 L987.50 490.55 L988.00 489.80 L988.50 488.97 L988.75 488.70 L989.00 488.60 L989.25 488.70 L989.50 488.97 L990.25 490.21 L990.50 490.55 L990.75 490.81 L991.25 491.09 L992.00 491.19 L996.75 491.18 L997.25 491.11 L997.75 490.87 L998.00 490.61 L998.25 490.24 L998.50 489.76 L999.00 488.61 L999.25 488.11 L999.50 487.79 L999.75 487.71 L1000.00 487.89 L1000.25 488.30 L1001.00 489.97 L1001.25 490.41 L1001.50 490.73 L1001.75 490.94 L1002.25 491.14 L1006.50 491.18 L1007.00 491.09 L1007.25 490.97 L1007.50 490.76 L1007.75 490.41 L1008.00 489.90 L1008.25 489.22 L1008.75 487.53 L1009.00 486.74 L1009.25 486.20 L1009.50 486.00 L1009.75 486.20 L1010.00 486.74 L1010.25 487.53 L1010.75 489.22 L1011.00 489.90 L1011.25 490.41 L1011.50 490.76 L1011.75 490.97 L1012.25 491.15 L1015.50 491.17 L1016.00 491.06 L1016.25 490.93 L1016.50 490.70 L1016.75 490.34 L1017.00 489.81 L1017.25 489.09 L1017.50 488.19 L1018.00 486.12 L1018.25 485.18 L1018.50 484.51 L1018.75 484.21 L1019.00 484.34 L1019.25 484.87 L1019.50 485.72 L1020.00 487.79 L1020.25 488.75 L1020.50 489.55 L1020.75 490.15 L1021.00 490.58 L1021.25 490.85 L1021.75 491.11 L1047.00 491.18 L1047.50 491.12 L1048.00 490.93 L1048.50 490.50 L1049.25 489.54 L1049.50 489.31 L1049.75 489.20 L1050.00 489.25 L1050.25 489.44 L1051.00 490.38 L1051.50 490.86 L1052.00 491.10 L1058.50 491.19 L1059.00 491.13 L1059.50 490.90 L1059.75 490.67 L1060.00 490.33 L1060.25 489.87 L1060.75 488.73 L1061.00 488.20 L1061.25 487.83 L1061.50 487.70 L1061.75 487.83 L1062.00 488.20 L1062.75 489.87 L1063.00 490.33 L1063.25 490.67 L1063.50 490.90 L1064.00 491.13 L1081.00 491.20" fill="none" stroke="#1a1a1a" stroke-width="1.25" stroke-linejoin="round"/><text x="213.44" y="112.00" style="font-size:28.00px;" fill="#ff0000">Tetra</text><text x="354.74" y="93.00" style="font-size:28.00px;" fill="#ff0000">TetraTetra</text><text x="758.42" y="78.00" style="font-size:27.20px;" fill="#ff0000">Penta</text><text x="979.85" y="98.70" style="font-size:27.40px;" fill="#ff0000">TetraPenta</text><text x="167.44" y="330.40" style="font-size:28.00px;" fill="#ff0000">Tetra-G</text><text x="218.94" y="424.40" style="font-size:28.00px;" fill="#ff0000">Tri</text><text x="219.48" y="455.60" style="font-size:28.00px;" fill="#ff0000">-G</text><text x="195.88" y="452.40" style="font-size:28.00px;" fill="#ff0000">?</text><text x="306.44" y="347.00" style="font-size:28.00px;" fill="#ff0000">Tetra</text><text x="306.44" y="378.80" style="font-size:28.00px;" fill="#ff0000">Tetra-2G</text><text x="370.74" y="317.50" style="font-size:28.00px;" fill="#ff0000">TetraTetra-G</text><text x="664.84" y="368.40" style="font-size:28.00px;" fill="#ff0000">Tetra-G</text><text x="733.44" y="458.00" style="font-size:28.00px;" fill="#ff0000">Tri</text><text x="713.04" y="303.30" style="font-size:28.00px;" fill="#ff0000">Tetra</text><text x="784.19" y="278.30" style="font-size:27.66px;" fill="#ff0000">Penta-G</text><text x="837.95" y="321.00" style="font-size:27.50px;" fill="#ff0000">TetraPenta-2G</text><text x="913.95" y="367.60" style="font-size:27.65px;" fill="#ff0000">TetraPenta-G</text><line x1="249.0" y1="121.5" x2="277.2" y2="143.5" stroke="#4472c4" stroke-width="3.9"/><polygon points="287.8,151.8 271.9,148.6 280.8,137.2" fill="#4472c4"/><line x1="816.0" y1="92.0" x2="844.7" y2="113.3" stroke="#4472c4" stroke-width="3.9"/><polygon points="855.5,121.3 839.5,118.5 848.2,106.8" fill="#4472c4"/><line x1="1019.5" y1="112.0" x2="991.3" y2="139.8" stroke="#4472c4" stroke-width="3.9"/><polygon points="981.7,149.3 986.9,134.0 997.1,144.3" fill="#4472c4"/><line x1="243.0" y1="340.0" x2="254.0" y2="376.1" stroke="#4472c4" stroke-width="3.9"/><polygon points="258.0,389.0 246.8,377.3 260.7,373.0" fill="#4472c4"/><line x1="348.0" y1="390.5" x2="378.5" y2="451.7" stroke="#4472c4" stroke-width="3.9"/><polygon points="384.5,463.8 371.5,454.1 384.5,447.6" fill="#4472c4"/><line x1="429.3" y1="332.0" x2="407.5" y2="408.3" stroke="#4472c4" stroke-width="3.9"/><polygon points="403.8,421.3 400.8,405.4 414.8,409.3" fill="#4472c4"/><line x1="731.5" y1="378.0" x2="762.4" y2="415.2" stroke="#4472c4" stroke-width="3.9"/><polygon points="771.0,425.6 756.2,419.1 767.3,409.8" fill="#4472c4"/><line x1="758.0" y1="311.0" x2="806.3" y2="394.7" stroke="#4472c4" stroke-width="3.9"/><polygon points="813.0,406.4 799.5,397.5 812.0,390.2" fill="#4472c4"/><line x1="831.0" y1="285.4" x2="827.4" y2="422.1" stroke="#4472c4" stroke-width="3.9"/><polygon points="827.0,435.6 820.1,420.9 834.6,421.3" fill="#4472c4"/><line x1="889.0" y1="326.0" x2="936.4" y2="446.2" stroke="#4472c4" stroke-width="3.9"/><polygon points="941.3,458.8 929.2,448.0 942.7,442.7" fill="#4472c4"/><line x1="968.6" y1="381.0" x2="962.1" y2="414.7" stroke="#4472c4" stroke-width="3.9"/><polygon points="959.5,428.0 955.1,412.4 969.4,415.1" fill="#4472c4"/><text x="496.58" y="181.20" style="font-size:27.00px;font-weight:bold;font-style:italic" fill="#000">E. coli</text><text x="490.69" y="213.80" style="font-size:27.00px;font-weight:bold" fill="#000"><tspan style='font-weight:normal;font-family:"Liberation Serif",serif'>&#916;</tspan>6LDT</text><text x="496.58" y="408.70" style="font-size:27.00px;font-weight:bold;font-style:italic" fill="#000">E. coli</text><text x="490.49" y="440.70" style="font-size:27.00px;font-weight:bold" fill="#000"><tspan style='font-weight:normal;font-family:"Liberation Serif",serif'>&#916;</tspan>6LDT</text><text x="469.32" y="473.20" style="font-size:27.00px;font-weight:bold" fill="#000">+ PBP-A</text><text x="1070.88" y="162.20" style="font-size:27.00px;font-weight:bold;font-style:italic" fill="#000">E. coli</text><text x="1044.71" y="194.80" style="font-size:26.40px;font-weight:bold" fill="#000">CS703-1</text><text x="1070.88" y="410.00" style="font-size:27.00px;font-weight:bold;font-style:italic" fill="#000">E. coli</text><text x="1044.71" y="442.70" style="font-size:26.40px;font-weight:bold" fill="#000">CS703-1</text><text x="1043.62" y="474.50" style="font-size:27.00px;font-weight:bold" fill="#000">+ PBP-A</text>
<line x1="295" y1="662.6" x2="330" y2="662.6" stroke="#000" stroke-width="5.2"/><polygon points="180.7,662.1 199.2,621.7 275.8,621.7 294.3,662.1 275.8,702.5 199.2,702.5" fill="#f8cbad" stroke="#000" stroke-width="5.2" stroke-linejoin="miter"/><polygon points="329.7,662.1 349.1,621.7 428.7,621.7 448.1,662.1 428.7,702.5 349.1,702.5" fill="#b4c7e7" stroke="#000" stroke-width="5.2" stroke-linejoin="miter"/><text x="190.00" y="668.80" style="font-size:25.00px;font-weight:bold" fill="#000">Glc<tspan style='font-style:italic'>NAc</tspan></text><text x="340.75" y="668.80" style="font-size:25.00px;font-weight:bold" fill="#000">Mur<tspan style='font-style:italic'>NAc</tspan></text><circle cx="388.2" cy="725.3" r="20.6" fill="url(#gA)" stroke="#000" stroke-width="2.6"/><circle cx="388.2" cy="767.4" r="20.6" fill="url(#gE)" stroke="#000" stroke-width="2.6"/><circle cx="388.2" cy="809.5" r="20.6" fill="url(#gM)" stroke="#000" stroke-width="2.6"/><circle cx="388.2" cy="851.6" r="20.6" fill="url(#gD)" stroke="#000" stroke-width="2.6"/><circle cx="388.2" cy="893.7" r="20.6" fill="url(#gD)" stroke="#000" stroke-width="2.6"/><text x="285.13" y="736.00" style="font-size:26.70px;" fill="#000">L-Ala</text><text x="285.32" y="775.30" style="font-size:26.70px;" fill="#000">D-Glu</text><text x="278.45" y="816.70" style="font-size:26.70px;" fill="#000">mDAP</text><text x="284.26" y="858.70" style="font-size:26.70px;" fill="#000">D-Ala</text><text x="284.56" y="900.00" style="font-size:26.70px;" fill="#000">D-Ala</text><text x="272.50" y="610.00" style="font-size:27.00px;font-weight:bold" fill="#000">Penta</text><line x1="498.7" y1="657.6" x2="560.7" y2="657.6" stroke="#000" stroke-width="3.8"/><polygon points="476.7,657.6 485.5,640.4 511.9,640.4 520.7,657.6 511.9,674.8 485.5,674.8" fill="#f8cbad" stroke="#000" stroke-width="3.6" stroke-linejoin="miter"/><polygon points="538.7,657.6 547.5,640.4 573.9,640.4 582.7,657.6 573.9,674.8 547.5,674.8" fill="#b4c7e7" stroke="#000" stroke-width="3.6" stroke-linejoin="miter"/><circle cx="560.6" cy="685.9" r="9.5" fill="url(#gA)" stroke="#000" stroke-width="1.3"/><circle cx="560.6" cy="706.4" r="9.5" fill="url(#gE)" stroke="#000" stroke-width="1.3"/><circle cx="560.6" cy="726.9" r="9.5" fill="url(#gM)" stroke="#000" stroke-width="1.3"/><circle cx="560.6" cy="747.4" r="9.5" fill="url(#gD)" stroke="#000" stroke-width="1.3"/><text x="496.53" y="610.60" style="font-size:27.00px;font-weight:bold" fill="#000">Tetra</text><line x1="633.4" y1="657.5" x2="695.6" y2="657.5" stroke="#000" stroke-width="3.8"/><polygon points="611.4,657.5 620.2,640.3 646.6,640.3 655.4,657.5 646.6,674.7 620.2,674.7" fill="#f8cbad" stroke="#000" stroke-width="3.6" stroke-linejoin="miter"/><polygon points="673.6,657.5 682.4,640.3 708.8,640.3 717.6,657.5 708.8,674.7 682.4,674.7" fill="#b4c7e7" stroke="#000" stroke-width="3.6" stroke-linejoin="miter"/><circle cx="695.4" cy="685.8" r="9.5" fill="url(#gA)" stroke="#000" stroke-width="1.3"/><circle cx="695.4" cy="706.3" r="9.5" fill="url(#gE)" stroke="#000" stroke-width="1.3"/><circle cx="695.4" cy="726.8" r="9.5" fill="url(#gM)" stroke="#000" stroke-width="1.3"/><text x="647.94" y="610.60" style="font-size:27.00px;font-weight:bold" fill="#000">Tri</text><line x1="765.5" y1="657.9" x2="827.6" y2="657.9" stroke="#000" stroke-width="3.8"/><polygon points="743.5,657.9 752.3,640.7 778.7,640.7 787.5,657.9 778.7,675.1 752.3,675.1" fill="#f8cbad" stroke="#000" stroke-width="3.6" stroke-linejoin="miter"/><polygon points="805.6,657.9 814.4,640.7 840.8,640.7 849.6,657.9 840.8,675.1 814.4,675.1" fill="#b4c7e7" stroke="#000" stroke-width="3.6" stroke-linejoin="miter"/><line x1="827.5" y1="727.4" x2="862.0" y2="727.4" stroke="#000" stroke-width="3"/><circle cx="827.5" cy="686.4" r="9.5" fill="url(#gA)" stroke="#000" stroke-width="1.3"/><circle cx="827.5" cy="706.9" r="9.5" fill="url(#gE)" stroke="#000" stroke-width="1.3"/><circle cx="827.5" cy="727.4" r="9.5" fill="url(#gM)" stroke="#000" stroke-width="1.3"/><circle cx="827.5" cy="747.9" r="9.5" fill="url(#gD)" stroke="#000" stroke-width="1.3"/><circle cx="827.5" cy="768.4" r="9.5" fill="url(#gD)" stroke="#000" stroke-width="1.3"/><circle cx="862.0" cy="727.4" r="9.5" fill="url(#gD)" stroke="#000" stroke-width="1.3"/><circle cx="862.0" cy="747.9" r="9.5" fill="url(#gM)" stroke="#000" stroke-width="1.3"/><circle cx="862.0" cy="768.4" r="9.5" fill="url(#gE)" stroke="#000" stroke-width="1.3"/><circle cx="862.0" cy="788.9" r="9.5" fill="url(#gA)" stroke="#000" stroke-width="1.3"/><line x1="800.8" y1="818.2" x2="862.8" y2="818.2" stroke="#000" stroke-width="3.8"/><polygon points="778.8,818.2 787.6,801.0 814.0,801.0 822.8,818.2 814.0,835.4 787.6,835.4" fill="#f8cbad" stroke="#000" stroke-width="3.6" stroke-linejoin="miter"/><polygon points="840.8,818.2 849.6,801.0 876.0,801.0 884.8,818.2 876.0,835.4 849.6,835.4" fill="#b4c7e7" stroke="#000" stroke-width="3.6" stroke-linejoin="miter"/><text x="722.51" y="610.90" style="font-size:27.00px;font-weight:bold" fill="#000">TetraPenta</text><line x1="907.0" y1="658.0" x2="968.9" y2="658.0" stroke="#000" stroke-width="3.8"/><polygon points="885.0,658.0 893.8,640.8 920.2,640.8 929.0,658.0 920.2,675.2 893.8,675.2" fill="#f8cbad" stroke="#000" stroke-width="3.6" stroke-linejoin="miter"/><polygon points="946.9,658.0 955.7,640.8 982.1,640.8 990.9,658.0 982.1,675.2 955.7,675.2" fill="#b4c7e7" stroke="#000" stroke-width="3.6" stroke-linejoin="miter"/><line x1="969.3" y1="727.5" x2="1003.4" y2="727.5" stroke="#000" stroke-width="3"/><circle cx="969.3" cy="686.5" r="9.5" fill="url(#gA)" stroke="#000" stroke-width="1.3"/><circle cx="969.3" cy="707.0" r="9.5" fill="url(#gE)" stroke="#000" stroke-width="1.3"/><circle cx="969.3" cy="727.5" r="9.5" fill="url(#gM)" stroke="#000" stroke-width="1.3"/><circle cx="969.3" cy="748.0" r="9.5" fill="url(#gD)" stroke="#000" stroke-width="1.3"/><circle cx="1003.4" cy="727.5" r="9.5" fill="url(#gD)" stroke="#000" stroke-width="1.3"/><circle cx="1003.4" cy="748.0" r="9.5" fill="url(#gM)" stroke="#000" stroke-width="1.3"/><circle cx="1003.4" cy="768.5" r="9.5" fill="url(#gE)" stroke="#000" stroke-width="1.3"/><circle cx="1003.4" cy="789.0" r="9.5" fill="url(#gA)" stroke="#000" stroke-width="1.3"/><line x1="941.6" y1="818.2" x2="1004.8" y2="818.2" stroke="#000" stroke-width="3.8"/><polygon points="919.6,818.2 928.4,801.0 954.8,801.0 963.6,818.2 954.8,835.4 928.4,835.4" fill="#f8cbad" stroke="#000" stroke-width="3.6" stroke-linejoin="miter"/><polygon points="982.8,818.2 991.6,801.0 1018.0,801.0 1026.8,818.2 1018.0,835.4 991.6,835.4" fill="#b4c7e7" stroke="#000" stroke-width="3.6" stroke-linejoin="miter"/><text x="891.44" y="610.60" style="font-size:27.00px;font-weight:bold" fill="#000">TetraTetra</text><polygon points="216.6,1028.9 225.4,1011.7 251.8,1011.7 260.6,1028.9 251.8,1046.1 225.4,1046.1" fill="#b4c7e7" stroke="#000" stroke-width="3.6" stroke-linejoin="miter"/><circle cx="238.7" cy="1057.3" r="9.5" fill="url(#gA)" stroke="#000" stroke-width="1.3"/><circle cx="238.7" cy="1077.8" r="9.5" fill="url(#gE)" stroke="#000" stroke-width="1.3"/><circle cx="238.7" cy="1098.3" r="9.5" fill="url(#gM)" stroke="#000" stroke-width="1.3"/><circle cx="238.7" cy="1118.8" r="9.5" fill="url(#gD)" stroke="#000" stroke-width="1.3"/><circle cx="238.7" cy="1139.3" r="9.5" fill="url(#gD)" stroke="#000" stroke-width="1.3"/><text x="201.90" y="963.20" style="font-size:27.00px;font-weight:bold" fill="#000">Penta</text><text x="224.98" y="995.00" style="font-size:27.00px;font-weight:bold" fill="#000">-G</text><polygon points="312.3,1028.9 321.1,1011.7 347.5,1011.7 356.3,1028.9 347.5,1046.1 321.1,1046.1" fill="#b4c7e7" stroke="#000" stroke-width="3.6" stroke-linejoin="miter"/><circle cx="334.6" cy="1057.3" r="9.5" fill="url(#gA)" stroke="#000" stroke-width="1.3"/><circle cx="334.6" cy="1077.8" r="9.5" fill="url(#gE)" stroke="#000" stroke-width="1.3"/><circle cx="334.6" cy="1098.3" r="9.5" fill="url(#gM)" stroke="#000" stroke-width="1.3"/><circle cx="334.6" cy="1118.8" r="9.5" fill="url(#gD)" stroke="#000" stroke-width="1.3"/><text x="296.15" y="963.20" style="font-size:27.00px;font-weight:bold" fill="#000">Tetra-</text><text x="321.64" y="995.00" style="font-size:27.00px;font-weight:bold" fill="#000">G</text><polygon points="407.4,1028.9 416.2,1011.7 442.6,1011.7 451.4,1028.9 442.6,1046.1 416.2,1046.1" fill="#b4c7e7" stroke="#000" stroke-width="3.6" stroke-linejoin="miter"/><circle cx="429.9" cy="1057.3" r="9.5" fill="url(#gA)" stroke="#000" stroke-width="1.3"/><circle cx="429.9" cy="1077.8" r="9.5" fill="url(#gE)" stroke="#000" stroke-width="1.3"/><circle cx="429.9" cy="1098.3" r="9.5" fill="url(#gM)" stroke="#000" stroke-width="1.3"/><text x="401.92" y="963.20" style="font-size:27.00px;font-weight:bold" fill="#000">Tri-G</text><polygon points="534.8,1028.9 543.6,1011.7 570.0,1011.7 578.8,1028.9 570.0,1046.1 543.6,1046.1" fill="#b4c7e7" stroke="#000" stroke-width="3.6" stroke-linejoin="miter"/><line x1="557.3" y1="1098.4" x2="591.7" y2="1098.4" stroke="#000" stroke-width="3"/><circle cx="557.3" cy="1057.4" r="9.5" fill="url(#gA)" stroke="#000" stroke-width="1.3"/><circle cx="557.3" cy="1077.9" r="9.5" fill="url(#gE)" stroke="#000" stroke-width="1.3"/><circle cx="557.3" cy="1098.4" r="9.5" fill="url(#gM)" stroke="#000" stroke-width="1.3"/><circle cx="557.3" cy="1118.9" r="9.5" fill="url(#gD)" stroke="#000" stroke-width="1.3"/><circle cx="557.3" cy="1139.4" r="9.5" fill="url(#gD)" stroke="#000" stroke-width="1.3"/><circle cx="591.7" cy="1098.4" r="9.5" fill="url(#gD)" stroke="#000" stroke-width="1.3"/><circle cx="591.7" cy="1118.9" r="9.5" fill="url(#gM)" stroke="#000" stroke-width="1.3"/><circle cx="591.7" cy="1139.4" r="9.5" fill="url(#gE)" stroke="#000" stroke-width="1.3"/><circle cx="591.7" cy="1159.9" r="9.5" fill="url(#gA)" stroke="#000" stroke-width="1.3"/><line x1="529.1" y1="1189.3" x2="591.3" y2="1189.3" stroke="#000" stroke-width="3.8"/><polygon points="507.1,1189.3 515.9,1172.1 542.3,1172.1 551.1,1189.3 542.3,1206.5 515.9,1206.5" fill="#f8cbad" stroke="#000" stroke-width="3.6" stroke-linejoin="miter"/><polygon points="569.3,1189.3 578.1,1172.1 604.5,1172.1 613.3,1189.3 604.5,1206.5 578.1,1206.5" fill="#b4c7e7" stroke="#000" stroke-width="3.6" stroke-linejoin="miter"/><polygon points="640.4,1028.9 649.2,1011.7 675.6,1011.7 684.4,1028.9 675.6,1046.1 649.2,1046.1" fill="#b4c7e7" stroke="#000" stroke-width="3.6" stroke-linejoin="miter"/><line x1="662.9" y1="1098.4" x2="697.2" y2="1098.4" stroke="#000" stroke-width="3"/><circle cx="662.9" cy="1057.4" r="9.5" fill="url(#gA)" stroke="#000" stroke-width="1.3"/><circle cx="662.9" cy="1077.9" r="9.5" fill="url(#gE)" stroke="#000" stroke-width="1.3"/><circle cx="662.9" cy="1098.4" r="9.5" fill="url(#gM)" stroke="#000" stroke-width="1.3"/><circle cx="662.9" cy="1118.9" r="9.5" fill="url(#gD)" stroke="#000" stroke-width="1.3"/><circle cx="662.9" cy="1139.4" r="9.5" fill="url(#gD)" stroke="#000" stroke-width="1.3"/><circle cx="697.2" cy="1098.4" r="9.5" fill="url(#gD)" stroke="#000" stroke-width="1.3"/><circle cx="697.2" cy="1118.9" r="9.5" fill="url(#gM)" stroke="#000" stroke-width="1.3"/><circle cx="697.2" cy="1139.4" r="9.5" fill="url(#gE)" stroke="#000" stroke-width="1.3"/><circle cx="697.2" cy="1159.9" r="9.5" fill="url(#gA)" stroke="#000" stroke-width="1.3"/><polygon points="674.7,1189.3 683.5,1172.1 709.9,1172.1 718.7,1189.3 709.9,1206.5 683.5,1206.5" fill="#b4c7e7" stroke="#000" stroke-width="3.6" stroke-linejoin="miter"/><text x="539.01" y="963.40" style="font-size:27.00px;font-weight:bold" fill="#000">TetraPenta</text><text x="537.58" y="994.70" style="font-size:27.00px;font-weight:bold" fill="#000">-G</text><text x="633.93" y="994.70" style="font-size:27.00px;font-weight:bold" fill="#000">-2G</text><polygon points="826.0,1028.9 834.8,1011.7 861.2,1011.7 870.0,1028.9 861.2,1046.1 834.8,1046.1" fill="#b4c7e7" stroke="#000" stroke-width="3.6" stroke-linejoin="miter"/><line x1="848.5" y1="1098.4" x2="882.8" y2="1098.4" stroke="#000" stroke-width="3"/><circle cx="848.5" cy="1057.4" r="9.5" fill="url(#gA)" stroke="#000" stroke-width="1.3"/><circle cx="848.5" cy="1077.9" r="9.5" fill="url(#gE)" stroke="#000" stroke-width="1.3"/><circle cx="848.5" cy="1098.4" r="9.5" fill="url(#gM)" stroke="#000" stroke-width="1.3"/><circle cx="848.5" cy="1118.9" r="9.5" fill="url(#gD)" stroke="#000" stroke-width="1.3"/><circle cx="882.8" cy="1098.4" r="9.5" fill="url(#gD)" stroke="#000" stroke-width="1.3"/><circle cx="882.8" cy="1118.9" r="9.5" fill="url(#gM)" stroke="#000" stroke-width="1.3"/><circle cx="882.8" cy="1139.4" r="9.5" fill="url(#gE)" stroke="#000" stroke-width="1.3"/><circle cx="882.8" cy="1159.9" r="9.5" fill="url(#gA)" stroke="#000" stroke-width="1.3"/><line x1="821.6" y1="1189.0" x2="883.6" y2="1189.0" stroke="#000" stroke-width="3.8"/><polygon points="799.6,1189.0 808.4,1171.8 834.8,1171.8 843.6,1189.0 834.8,1206.2 808.4,1206.2" fill="#f8cbad" stroke="#000" stroke-width="3.6" stroke-linejoin="miter"/><polygon points="861.6,1189.0 870.4,1171.8 896.8,1171.8 905.6,1189.0 896.8,1206.2 870.4,1206.2" fill="#b4c7e7" stroke="#000" stroke-width="3.6" stroke-linejoin="miter"/><polygon points="930.0,1028.9 938.8,1011.7 965.2,1011.7 974.0,1028.9 965.2,1046.1 938.8,1046.1" fill="#b4c7e7" stroke="#000" stroke-width="3.6" stroke-linejoin="miter"/><line x1="952.5" y1="1098.4" x2="986.5" y2="1098.4" stroke="#000" stroke-width="3"/><circle cx="952.5" cy="1057.4" r="9.5" fill="url(#gA)" stroke="#000" stroke-width="1.3"/><circle cx="952.5" cy="1077.9" r="9.5" fill="url(#gE)" stroke="#000" stroke-width="1.3"/><circle cx="952.5" cy="1098.4" r="9.5" fill="url(#gM)" stroke="#000" stroke-width="1.3"/><circle cx="952.5" cy="1118.9" r="9.5" fill="url(#gD)" stroke="#000" stroke-width="1.3"/><circle cx="986.5" cy="1098.4" r="9.5" fill="url(#gD)" stroke="#000" stroke-width="1.3"/><circle cx="986.5" cy="1118.9" r="9.5" fill="url(#gM)" stroke="#000" stroke-width="1.3"/><circle cx="986.5" cy="1139.4" r="9.5" fill="url(#gE)" stroke="#000" stroke-width="1.3"/><circle cx="986.5" cy="1159.9" r="9.5" fill="url(#gA)" stroke="#000" stroke-width="1.3"/><polygon points="966.9,1189.0 975.7,1171.8 1002.1,1171.8 1010.9,1189.0 1002.1,1206.2 975.7,1206.2" fill="#b4c7e7" stroke="#000" stroke-width="3.6" stroke-linejoin="miter"/><text x="838.64" y="963.40" style="font-size:27.00px;font-weight:bold" fill="#000">TetraTetra</text><text x="833.08" y="994.80" style="font-size:27.00px;font-weight:bold" fill="#000">-G</text><text x="928.52" y="994.80" style="font-size:27.00px;font-weight:bold" fill="#000">-2G</text>
<polyline points="113.7,1250.8 106,1250.8 106,1608.3 113.7,1608.3" fill="none" stroke="#000" stroke-width="1.3"/><text x="36.31" y="1259.50" style="font-size:27.40px;font-weight:bold" fill="#1a1a1a">125</text><text x="36.24" y="1438.50" style="font-size:27.40px;font-weight:bold" fill="#1a1a1a">100</text><text x="51.31" y="1617.70" style="font-size:27.40px;font-weight:bold" fill="#1a1a1a">75</text><text transform="translate(23 1442.8) rotate(-90)" style="font-size:27px;font-weight:bold" fill="#1a1a1a" text-anchor="middle">Relative abundance (%)</text><text x="165.03" y="1272.30" style="font-size:32.50px;font-weight:bold" fill="#1a1a1a">PG from <tspan style='font-style:italic'>E. coli</tspan> Top10</text><rect x="145.0" y="1430.0" width="36.3" height="57.5" fill="#0070c0" stroke="#000" stroke-width="1.3"/><rect x="184.2" y="1430.0" width="36.6" height="173.3" fill="#ffd966" stroke="#000" stroke-width="1.3"/><rect x="299.2" y="1430.0" width="36.2" height="51.3" fill="#0070c0" stroke="#000" stroke-width="1.3"/><rect x="338.3" y="1430.0" width="36.7" height="139.2" fill="#ffd966" stroke="#000" stroke-width="1.3"/><rect x="453.3" y="1380.4" width="37.1" height="49.6" fill="#0070c0" stroke="#000" stroke-width="1.3"/><rect x="492.9" y="1355.4" width="36.3" height="74.6" fill="#ffd966" stroke="#000" stroke-width="1.3"/><line x1="106" y1="1430" x2="568.8" y2="1430" stroke="#000" stroke-width="1.5"/><rect x="338.8" y="1310" width="13.6" height="14.8" fill="#0070c0" stroke="#000" stroke-width="1.2"/><text x="357.40" y="1324.50" style="font-size:27.20px;font-weight:bold" fill="#1a1a1a">pH 7.5</text><rect x="453.8" y="1310" width="13.6" height="14.8" fill="#ffd966" stroke="#000" stroke-width="1.2"/><text x="471.85" y="1324.50" style="font-size:27.20px;font-weight:bold" fill="#1a1a1a">pH 5</text><text x="117.49" y="1650.00" style="font-size:27.40px;font-weight:bold" fill="#1a1a1a">TetraTetra</text><text x="290.65" y="1650.00" style="font-size:27.40px;font-weight:bold" fill="#1a1a1a">Dimers</text><text x="299.21" y="1679.80" style="font-size:27.40px;font-weight:bold" fill="#1a1a1a">(total)</text><text x="421.52" y="1650.00" style="font-size:27.40px;font-weight:bold" fill="#1a1a1a">Monomers</text><text x="453.41" y="1679.80" style="font-size:27.40px;font-weight:bold" fill="#1a1a1a">(total)</text><polyline points="656.8,1251.3 648.5,1251.3 648.5,1610.3 656.8,1610.3" fill="none" stroke="#000" stroke-width="1.3"/><text x="579.96" y="1259.90" style="font-size:27.40px;font-weight:bold" fill="#1a1a1a">125</text><text x="580.04" y="1439.30" style="font-size:27.40px;font-weight:bold" fill="#1a1a1a">100</text><text x="595.11" y="1619.20" style="font-size:27.40px;font-weight:bold" fill="#1a1a1a">75</text><text x="724.02" y="1270.30" style="font-size:32.50px;font-weight:bold" fill="#1a1a1a">PG from <tspan style='font-style:italic'>E. coli</tspan> CS703-1</text><rect x="683.4" y="1430.0" width="32.0" height="102.1" fill="#0070c0" stroke="#000" stroke-width="1.3"/><rect x="718.5" y="1430.0" width="32.0" height="71.7" fill="#ffd966" stroke="#000" stroke-width="1.3"/><rect x="820.3" y="1334.9" width="32.6" height="95.1" fill="#0070c0" stroke="#000" stroke-width="1.3"/><rect x="855.5" y="1350.4" width="32.5" height="79.6" fill="#ffd966" stroke="#000" stroke-width="1.3"/><rect x="957.8" y="1430.0" width="32.0" height="66.0" fill="#0070c0" stroke="#000" stroke-width="1.3"/><rect x="992.4" y="1430.0" width="32.0" height="131.1" fill="#ffd966" stroke="#000" stroke-width="1.3"/><rect x="1094.7" y="1388.1" width="32.1" height="41.9" fill="#0070c0" stroke="#000" stroke-width="1.3"/><rect x="1129.4" y="1269.3" width="32.5" height="160.7" fill="#ffd966" stroke="#000" stroke-width="1.3"/><line x1="648.5" y1="1430.4" x2="1198" y2="1430.4" stroke="#000" stroke-width="1.5"/><rect x="923.9" y="1296.6" width="14.3" height="14.4" fill="#0070c0" stroke="#000" stroke-width="1.2"/><text x="942.40" y="1311.70" style="font-size:27.20px;font-weight:bold" fill="#1a1a1a">pH 7.5</text><rect x="1039.8" y="1296.6" width="13.9" height="14.4" fill="#ffd966" stroke="#000" stroke-width="1.2"/><text x="1058.70" y="1311.70" style="font-size:27.20px;font-weight:bold" fill="#1a1a1a">pH 5</text><text x="678.84" y="1651.00" style="font-size:27.40px;font-weight:bold" fill="#1a1a1a">Penta</text><text x="679.11" y="1682.30" style="font-size:27.40px;font-weight:bold" fill="#1a1a1a">(total)</text><text x="822.96" y="1651.00" style="font-size:27.40px;font-weight:bold" fill="#1a1a1a">Tetra</text><text x="815.71" y="1682.30" style="font-size:27.40px;font-weight:bold" fill="#1a1a1a">(total)</text><text x="944.05" y="1651.00" style="font-size:27.40px;font-weight:bold" fill="#1a1a1a">Dimers</text><text x="952.81" y="1682.30" style="font-size:27.40px;font-weight:bold" fill="#1a1a1a">(total)</text><text x="1059.37" y="1651.00" style="font-size:27.40px;font-weight:bold" fill="#1a1a1a">Monomers</text><text x="1091.01" y="1682.30" style="font-size:27.40px;font-weight:bold" fill="#1a1a1a">(total)</text>
</svg></body></html>
